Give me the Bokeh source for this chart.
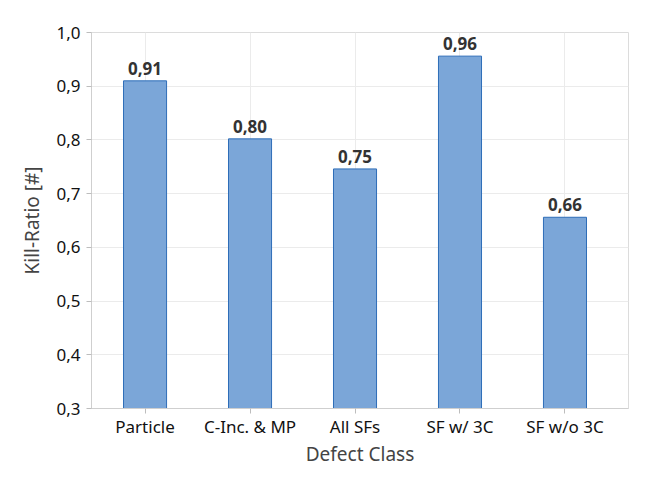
from bokeh.plotting import figure
from bokeh.models import ColumnDataSource, FixedTicker, CustomJSTickFormatter, Range1d
from bokeh.core.properties import value
from bokeh.embed import file_html
from bokeh.resources import INLINE

categories = ["Particle", "C-Inc. & MP", "All SFs", "SF w/ 3C", "SF w/o 3C"]
kill_ratio = [0.910, 0.802, 0.746, 0.956, 0.656]
y_ticks = [0.3, 0.4, 0.5, 0.6, 0.7, 0.8, 0.9, 1.0]

FONT = "Noto Sans"
xs = list(range(len(categories)))
labels = [f"{v:.2f}".replace(".", ",") for v in kill_ratio]
src = ColumnDataSource(dict(x=xs, top=kill_ratio, label=labels))

p = figure(width=645, height=462, output_backend="svg", toolbar_location=None,
           x_range=Range1d(-0.51, 4.605), y_range=Range1d(0.3, 1.0))
p.frame_width = 537
p.frame_height = 376
p.min_border_left = 91
p.min_border_right = 17
p.min_border_top = 32
p.min_border_bottom = 54
p.outline_line_color = "#dcdcdc"
p.background_fill_color = "white"
p.border_fill_color = "white"

p.vbar(x="x", top="top", bottom=0.3, width=0.41, source=src,
       fill_color="#7BA6D8", line_color="#2E6DB8", line_width=1)
p.text(x="x", y="top", text="label", source=src, text_align="center",
       text_baseline="bottom", y_offset=-6, text_font=value(FONT),
       text_font_style="bold", text_font_size="17px", text_color="#333333")

p.xaxis.ticker = FixedTicker(ticks=xs)
p.xaxis.major_label_overrides = {i: c for i, c in enumerate(categories)}
p.yaxis.ticker = FixedTicker(ticks=y_ticks)
p.yaxis.formatter = CustomJSTickFormatter(code="return tick.toFixed(1).replace('.', ',');")

for ax in (p.xaxis[0], p.yaxis[0]):
    ax.axis_line_color = "#cfcfcf"
    ax.major_tick_line_color = "#bdbdbd"
    ax.major_tick_in = 0
    ax.major_tick_out = 5
    ax.minor_tick_line_color = None
    ax.major_label_text_font = FONT
    ax.major_label_text_font_size = "17px"
    ax.major_label_text_color = "#111111"
    ax.axis_label_text_font = FONT
    ax.axis_label_text_font_size = "19px"
    ax.axis_label_text_font_style = "normal"
    ax.axis_label_text_color = "#444444"

p.xaxis.axis_label = "Defect Class"
p.yaxis.axis_label = "Kill-Ratio [#]"
p.xaxis.major_label_standoff = 1
p.xaxis.axis_label_standoff = 0
p.yaxis.major_label_standoff = 6
p.yaxis.axis_label_standoff = 8

p.xgrid.grid_line_color = "#ebebeb"
p.ygrid.grid_line_color = "#ebebeb"

open("out.html", "w").write(file_html(p, INLINE))
